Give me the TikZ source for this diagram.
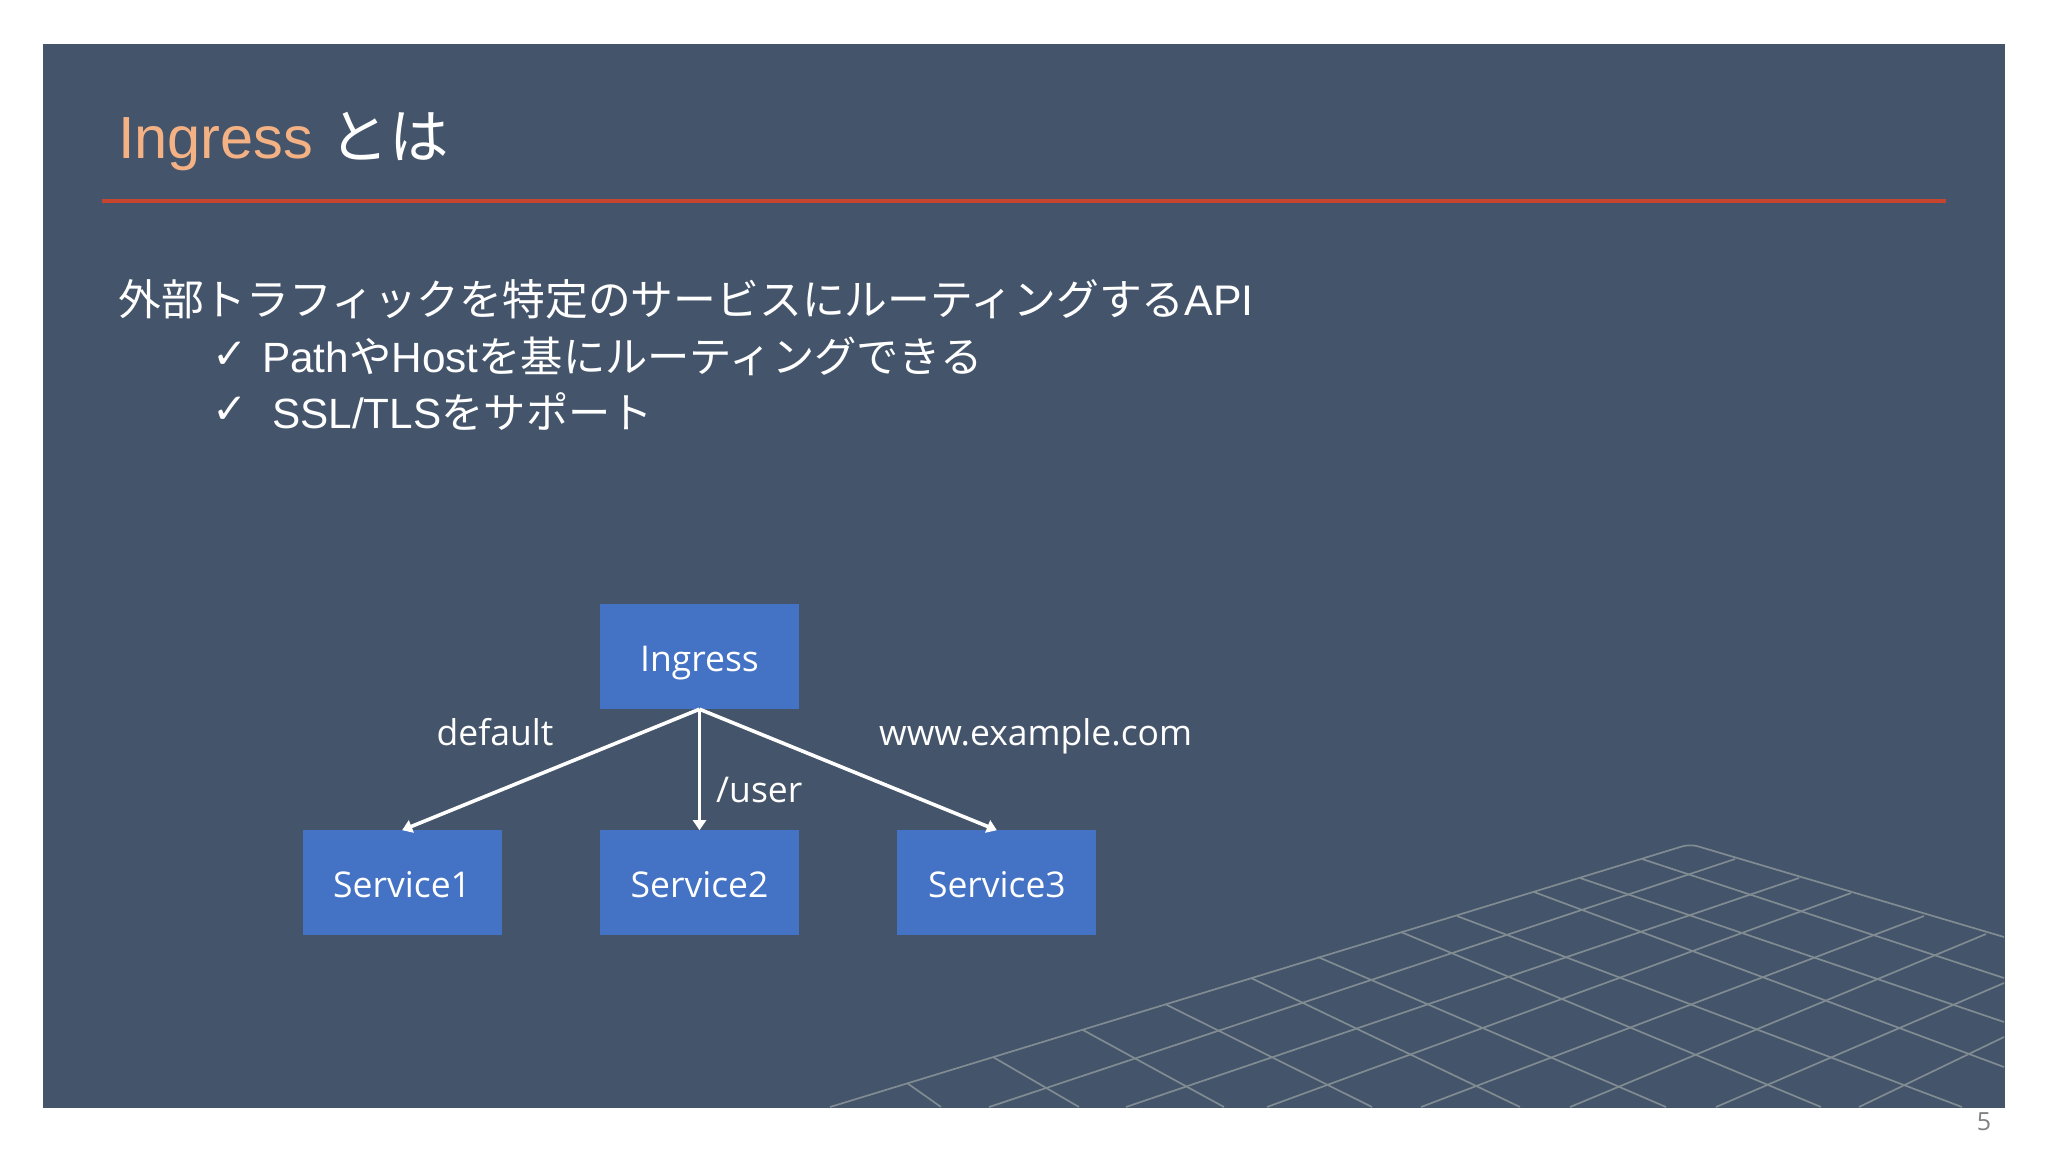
\documentclass[tikz,border=0pt]{standalone}
\usepackage{fontspec}
\setmainfont{Liberation Sans}
\newfontfamily\cjk{Noto Sans CJK JP}
\newfontfamily\boxfont{Open Sans}
\newfontfamily\tickfont{DejaVu Sans}
\usetikzlibrary{
    arrows.meta,
    positioning
}
\definecolor{slidebg}{HTML}{44546A}
\definecolor{boxblue}{HTML}{4472C4}
\definecolor{titleorange}{HTML}{F4B183}
\definecolor{rulered}{HTML}{C5452F}
\definecolor{gridgray}{HTML}{808C92}
\tikzset{
  textline/.style={
    anchor=base west,
    inner sep=0pt,
    text=white,
    font=\fontsize{42.3}{50}\selectfont
  },
  tick/.style={
    inner sep=0pt,
    text=white,
    font=\tickfont\fontsize{42}{50}\selectfont
  },
  svcbox/.style={
    fill=boxblue,
    inner sep=0pt,
    minimum width=199pt,
    minimum height=105pt,
    text=white,
    text height=29pt,
    text depth=0pt,
    font=\boxfont\fontsize{35.5}{40}\selectfont
  },
  pathlabel/.style={
    inner sep=0pt,
    text=white,
    text height=29pt,
    text depth=0pt,
    font=\boxfont\fontsize{35.5}{40}\selectfont
  },
  route/.style={
    draw=white,
    line width=3.6pt,
    -{Triangle[length=10pt,width=13pt]}
  },
  gridline/.style={
    draw=gridgray,
    line width=1.7pt
  }
}

\begin{document}
\begin{tikzpicture}[x=1pt, y=-1pt]

  \useasboundingbox (0,0) rectangle (2048,1152);

  % slide {{{
  \fill[slidebg] (43,44) rectangle (2005,1108);
  \draw[rulered, line width=4.5pt] (102,201) -- (1946,201);
  \node[
    inner sep=0pt,
    text=gray,
    font=\boxfont\fontsize{25}{28}\selectfont
  ] (pagenum) at (1984,1122) {5};
  % }}}

  % floor grid {{{
  \draw[gridline, rounded corners=8pt] (830,1107) -- (1690,844) -- (2004,937);
  \foreach \xa/\ya/\xb/\yb in {
    1735/859/989/1107, 1799/878/1126/1107, 1851/893/1267/1107,
    1924/916/1421/1107, 1986/934/1570/1107, 2004/983/1716/1107,
    2004/1037/1859/1107,
    1642/859/2004/978, 1580/878/2004/1022, 1534/892/2004/1067,
    1457/916/1962/1107, 1401/932/1821/1107, 1318/957/1666/1107,
    1251/978/1520/1107, 1165/1004/1372/1107, 1083/1030/1224/1107,
    993/1057/1079/1107, 907/1083/941/1107
  }
    \draw[gridline] (\xa,\ya) -- (\xb,\yb);
  % }}}

  % heading and text {{{
  \node[
    textline,
    font=\fontsize{59.5}{66}\selectfont
  ] (heading) at (118,158)
  {\textcolor{titleorange}{Ingress} {\cjk とは}};

  \node[
    textline,
    font=\fontsize{42.8}{50}\selectfont
  ] (intro) at (118,315)
  {{\cjk 外部トラフィックを特定のサービスにルーティングする}API};

  \node[tick] (tick1) at (230,355) {✓};
  \node[textline] (point1) at (262,372)
  {Path{\cjk や}Host{\cjk を基にルーティングできる}};

  \node[tick] (tick2) at (230,410) {✓};
  \node[textline] (point2) at (272,428)
  {SSL/TLS{\cjk をサポート}};
  % }}}

  % boxes {{{
  \node[svcbox] (ingress) at (699.5,656.5) {Ingress};
  \node[svcbox, below=121pt of ingress] (service2) {Service2};
  \node[svcbox, left=98pt of service2] (service1) {Service1};
  \node[svcbox, right=98pt of service2] (service3) {Service3};
  % }}}

  % routes {{{
  \draw[route] (ingress.south) -- (service1.north);
  \draw[route] (ingress.south) -- (service2.north);
  \draw[route] (ingress.south) -- (service3.north);

  \node[pathlabel] (defaultlabel) at (495,730.5) {default};
  \node[pathlabel, anchor=west] (userlabel) at (716,788) {/user};
  \node[pathlabel, anchor=west] (hostlabel) at (879,730.5) {www.example.com};
  % }}}

\end{tikzpicture}
\end{document}
